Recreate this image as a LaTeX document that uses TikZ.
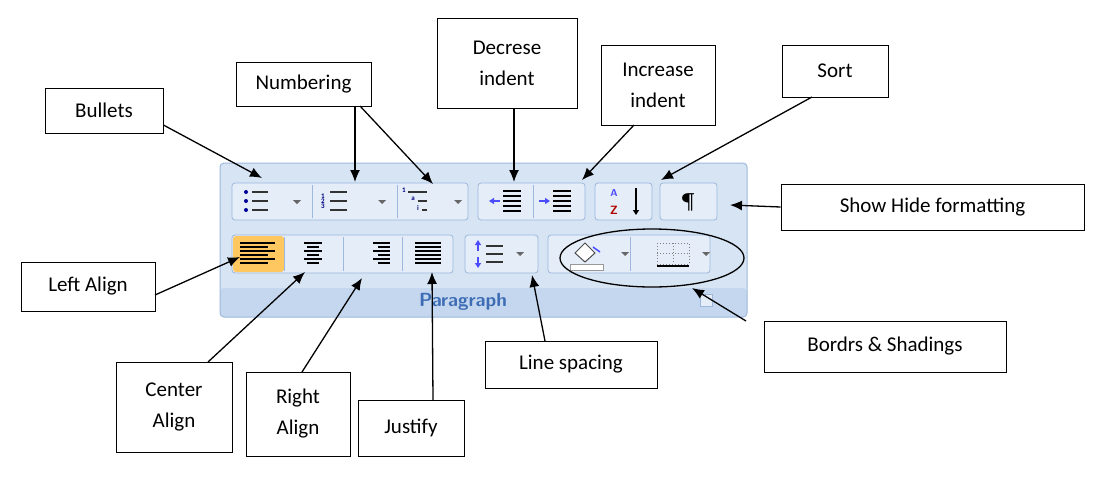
\documentclass[tikz,border=0pt]{standalone}
\usepackage{fontspec}
\setmainfont{Carlito}
\usetikzlibrary{arrows.meta}
\definecolor{pane}{HTML}{D7E4F4}
\definecolor{paneb}{HTML}{C4D7EE}
\definecolor{edge}{HTML}{9DB8DC}
\definecolor{btn}{HTML}{E4EDF8}
\definecolor{plab}{HTML}{3E6DB5}
\definecolor{ora}{HTML}{FFC760}
\begin{document}
\begin{tikzpicture}[x=1pt,y=-1pt,
  callout/.style={draw,thick,fill=white,font=\fontsize{21}{26}\selectfont,align=center,inner sep=0pt},
  arr/.style={-{Latex[length=12pt,width=10pt]},line width=1.3pt},
  sarr/.style={-{Triangle[length=5pt,width=6pt]}},
  grp/.style={draw=edge,fill=btn,rounded corners=3pt,line width=0.8pt},
  dv/.style={draw=edge,line width=0.6pt},
  ic/.style={line width=2pt,black!80}]
\useasboundingbox (0,0) rectangle (1105,477);
% panel
\fill[pane,rounded corners=4pt] (220,163) rectangle (747,317);
\fill[paneb,rounded corners=4pt] (220,288) rectangle (747,317);
\draw[edge,rounded corners=4pt,line width=1pt] (220,163) rectangle (747,317);
\node[text=plab,font=\sffamily\bfseries\fontsize{19}{22}\selectfont] (para) at (463,302) {Paragraph};
\draw[edge,fill=btn] (700,294) rectangle (712,306);
% row 1
\draw[grp] (232,183) rectangle (468,220);
\draw[dv] (312,185)--(312,218) (397,185)--(397,218);
\draw[grp] (478,183) rectangle (585,220);
\draw[dv] (533,185)--(533,218);
\draw[grp] (595,183) rectangle (652,220);
\draw[grp] (660,183) rectangle (717,220);
% row 2
\draw[grp] (232,235) rectangle (453,273);
\fill[ora,rounded corners=3pt] (233,236) rectangle (284,272);
\draw[dv] (284,237)--(284,271) (343,237)--(343,271) (402,237)--(402,271);
\draw[grp] (465,235) rectangle (538,273);
\draw[grp] (548,235) rectangle (710,273);
\draw[dv] (630,237)--(630,271);
% icons row1: bullets
\foreach \y in {192,201,210}{\fill[blue!60!black] (246,\y) circle (2pt); \draw[ic] (252,\y)--(268,\y);}
\foreach \y in {192,201,210}{\draw[ic] (330,\y)--(347,\y);}
\node[font=\fontsize{7}{6}\selectfont\bfseries,text=blue!50!black,align=center,inner sep=0pt] at (323,201) {1\\[-1pt]2\\[-1pt]3};
\draw[ic] (408,192)--(427,192) (418,201)--(427,201) (422,210)--(427,210);
\node[font=\fontsize{7}{6}\selectfont\bfseries,text=blue!50!black,inner sep=0pt] at (404,190) {1};
\node[font=\fontsize{7}{6}\selectfont\bfseries,text=blue!50!black,inner sep=0pt] at (413,199) {a};
\node[font=\fontsize{7}{6}\selectfont\bfseries,text=blue!50!black,inner sep=0pt] at (418,208) {i};
\foreach \x in {297,382,458}{\fill[black!60] (\x-4,200)--(\x+4,200)--(\x,204)--cycle;}
% indents
\foreach \y in {191,196,201,206,211}{\draw[line width=1.8pt] (503,\y)--(521,\y); \draw[line width=1.8pt] (553,\y)--(571,\y);}
\draw[blue!70,line width=1.3pt,sarr] (500,201)--(489,201);
\draw[blue!70,line width=1.3pt,sarr] (539,201)--(550,201);
% sort
\node[font=\sffamily\bfseries\fontsize{10}{10}\selectfont,text=blue!70,inner sep=0pt] at (614,193) {A};
\node[font=\sffamily\bfseries\fontsize{12}{12}\selectfont,text=red!70!black,inner sep=0pt] at (614,210) {Z};
\draw[line width=1.8pt,sarr] (636,188)--(636,215);
% pilcrow
\node[font=\sffamily\bfseries\fontsize{20}{20}\selectfont,inner sep=0pt] at (688,202) {¶};
% row2 align icons
\foreach \y/\b in {243/275,247/268,251/275,255/268,259/275,263/268}{\draw[line width=1.6pt] (240,\y)--(\b,\y);}
\foreach \y/\w in {243/9,247/6,251/9,255/6,259/9,263/6}{\draw[line width=1.6pt] (313-\w,\y)--(313+\w,\y);}
\foreach \y/\w in {243/17,247/12,251/17,255/12,259/17,263/12}{\draw[line width=1.6pt] (390-\w,\y)--(390,\y);}
\foreach \y in {243,247,251,255,259,263}{\draw[line width=1.6pt] (415,\y)--(441,\y);}
% line spacing
\draw[blue!70,line width=1.4pt,sarr] (478,251)--(478,240);
\draw[blue!70,line width=1.4pt,sarr] (478,257)--(478,268);
\foreach \y in {246,254,262}{\draw[ic] (486,\y)--(503,\y);}
\fill[black!60] (516,252)--(524,252)--(520,256)--cycle;
% shading / borders
\draw[black!70,fill=white,line width=1pt] (575,253)--(585,243)--(595,253)--(585,262)--cycle;
\draw[blue!70,line width=1.5pt] (593,247)--(600,252);
\draw[black!40,fill=white] (570,264) rectangle (603,270);
\fill[black!60] (621,252)--(629,252)--(625,256)--cycle;
\draw[black!50,dotted,line width=1pt] (657,243) rectangle (689,264) (673,243)--(673,264) (657,253)--(689,253);
\draw[line width=1.5pt] (657,266)--(689,266);
\fill[black!60] (702,252)--(710,252)--(706,256)--cycle;
% ellipse
\draw[line width=1.3pt] (652,258) ellipse (92 and 29);
\coordinate (ell) at (692,288);
% callouts
\node[callout,minimum width=118pt,minimum height=45pt] (bul) at (104,110.5) {Bullets};
\node[callout,minimum width=135pt,minimum height=44pt] (num) at (303.5,84) {Numbering};
\node[callout,minimum width=140pt,minimum height=90pt] (dec) at (507,63) {Decrese\\[5pt]indent};
\node[callout,minimum width=114pt,minimum height=80pt] (inc) at (658,85) {Increase\\[5pt]indent};
\node[callout,minimum width=106pt,minimum height=52pt] (sort) at (835,71) {Sort};
\node[callout,minimum width=303pt,minimum height=46pt] (show) at (932.5,207) {Show Hide formatting};
\node[callout,minimum width=134pt,minimum height=49pt] (left) at (88,286.5) {Left Align};
\node[callout,minimum width=116pt,minimum height=90pt] (cen) at (174,407) {Center\\[5pt]Align};
\node[callout,minimum width=104pt,minimum height=84pt] (rig) at (298,414) {Right\\[5pt]Align};
\node[callout,minimum width=106pt,minimum height=56pt] (jus) at (411,428) {Justify};
\node[callout,minimum width=172pt,minimum height=47pt] (ls) at (571,364.5) {Line spacing};
\node[callout,minimum width=242pt,minimum height=51pt] (bor) at (885,346.5) {Bordrs \& Shadings};
% targets
\coordinate (tbul) at (262,178); \coordinate (tn1) at (355,182); \coordinate (tn2) at (433,184);
\coordinate (tdec) at (514,182); \coordinate (tinc) at (582,180); \coordinate (tsort) at (661,180);
\coordinate (tshow) at (730,205); \coordinate (tleft) at (240,257); \coordinate (tcen) at (305,272);
\coordinate (trig) at (362,278); \coordinate (tjus) at (432,272); \coordinate (tls) at (532,275);
% arrows
\draw[arr] (bul.east|-0,125) -- (tbul);
\draw[arr] (355,106) -- (tn1);
\draw[arr] (360,106) -- (tn2);
\draw[arr] (dec.south-|tdec) -- (tdec);
\draw[arr] (634,125) -- (tinc);
\draw[arr] (812,97) -- (tsort);
\draw[arr] (show.west) -- (tshow);
\draw[arr] (155,295) -- (tleft);
\draw[arr] (208,362) -- (tcen);
\draw[arr] (302,372) -- (trig);
\draw[arr] (433,400) -- (tjus);
\draw[arr] (545,341) -- (tls);
\draw[arr] (746,321) -- (ell);
\end{tikzpicture}
\end{document}
